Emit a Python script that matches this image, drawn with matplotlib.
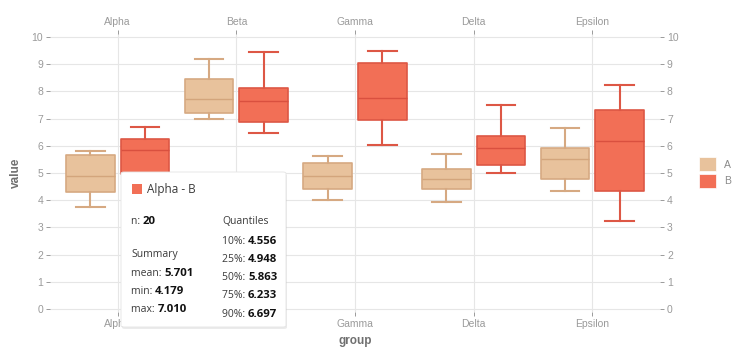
import matplotlib
matplotlib.use("Agg")
import matplotlib.pyplot as plt
from matplotlib.patches import Patch, Rectangle, FancyBboxPatch

# ---------------- data ----------------
groups = ["Alpha", "Beta", "Gamma", "Delta", "Epsilon"]
series = ["A", "B"]

# whisker low (10%), q1 (25%), median, q3 (75%), whisker high (90%)
a_low = [3.76, 7.00, 4.01, 3.93, 4.35]
a_q1 = [4.29, 7.22, 4.42, 4.43, 4.77]
a_med = [4.89, 7.71, 4.89, 4.77, 5.50]
a_q3 = [5.66, 8.44, 5.36, 5.16, 5.91]
a_high = [5.82, 9.18, 5.63, 5.69, 6.67]

b_low = [4.556, 6.47, 6.02, 5.00, 3.25]
b_q1 = [4.948, 6.89, 6.94, 5.31, 4.34]
b_med = [5.863, 7.65, 7.77, 5.93, 6.18]
b_q3 = [6.233, 8.11, 9.06, 6.37, 7.32]
b_high = [6.697, 9.45, 9.47, 7.49, 8.24]

# tooltip content (Alpha - B)
tip_title = "Alpha - B"
tip_n = 20
tip_summary = [("mean", "5.701"), ("min", "4.179"), ("max", "7.010")]
tip_quantiles = [("10%", "4.556"), ("25%", "4.948"), ("50%", "5.863"),
                 ("75%", "6.233"), ("90%", "6.697")]

yticks = list(range(0, 11))

# ---------------- style ----------------
plt.rcParams["font.family"] = ["Liberation Sans", "DejaVu Sans"]
col_fill = {"A": "#E8C29C", "B": "#F26F56"}
col_edge = {"A": "#D6A982", "B": "#DD5745"}
col_med = {"A": "#D3A57C", "B": "#D9503F"}
grid_c = "#E6E6E6"
tick_c = "#9A9A9A"

W, H = 740, 360
fig = plt.figure(figsize=(W / 100, H / 100), dpi=100)
ax = fig.add_axes([50 / W, 1 - 312.3 / H, 610 / W, (312.3 - 33.7) / H])

stats = {"A": (a_low, a_q1, a_med, a_q3, a_high),
         "B": (b_low, b_q1, b_med, b_q3, b_high)}
offsets = {"A": -0.23, "B": 0.23}

for s in series:
    lo, q1, med, q3, hi = stats[s]
    bstats = [dict(whislo=lo[i], q1=q1[i], med=med[i], q3=q3[i], whishi=hi[i],
                   fliers=[], label=groups[i]) for i in range(len(groups))]
    pos = [i + offsets[s] for i in range(len(groups))]
    ax.bxp(bstats, positions=pos, widths=0.41, capwidths=0.24,
           patch_artist=True, showfliers=False, manage_ticks=False,
           boxprops=dict(facecolor=col_fill[s], edgecolor=col_edge[s], linewidth=1.2,
                         joinstyle="round"),
           medianprops=dict(color=col_med[s], linewidth=1.0),
           whiskerprops=dict(color=col_edge[s], linewidth=1.5),
           capprops=dict(color=col_edge[s], linewidth=1.5), zorder=3)

ax.set_xlim(-0.57, 4.57)
ax.set_ylim(-0.12, 10.12)
ax.set_yticks(yticks)
ax.set_xticks(range(len(groups)))
ax.set_xticklabels(groups)
ax.grid(True, color=grid_c, linewidth=0.8, zorder=0)
ax.set_axisbelow(True)
for sp in ax.spines.values():
    sp.set_visible(False)
ax.tick_params(axis="both", colors=tick_c, labelsize=7.5, length=3, width=0.7,
               pad=2, labelcolor=tick_c)
ax.tick_params(axis="x", top=True, labeltop=True, pad=2)
ax.tick_params(axis="y", right=True, labelright=True)
for t in ax.get_xticklines():
    t.set_color(grid_c)
ax.set_xlabel("group", fontsize=8.5, fontweight="bold", color="#707070", labelpad=4)
ax.set_ylabel("value", fontsize=8.5, fontweight="bold", color="#707070", labelpad=7)

# legend
handles = [Patch(facecolor=col_fill[s], edgecolor="white", linewidth=0.5) for s in series]
leg = fig.legend(handles, series, loc="upper left", bbox_to_anchor=(690 / W, 1 - 148 / H),
                 frameon=False, fontsize=7.5, handlelength=1.6, handleheight=1.7,
                 labelspacing=0.25, handletextpad=0.8, labelcolor="#8a8a8a")

# ---------------- tooltip ----------------
def fx(px):
    return px / W

def fy(py):
    return 1 - py / H

tx0, ty0, tx1, ty1 = 121, 172, 286, 327
shadow = FancyBboxPatch((fx(tx0 + 1), fy(ty1 + 2)), fx(tx1 - tx0), (ty1 - ty0) / H,
                        boxstyle="round,pad=0,rounding_size=0.004",
                        transform=fig.transFigure, facecolor="#000000", alpha=0.08,
                        edgecolor="none", zorder=10)
fig.add_artist(shadow)
box = FancyBboxPatch((fx(tx0), fy(ty1)), fx(tx1 - tx0), (ty1 - ty0) / H,
                     boxstyle="round,pad=0,rounding_size=0.004",
                     transform=fig.transFigure, facecolor="white",
                     edgecolor="#E4E4E4", linewidth=0.6, zorder=11)
fig.add_artist(box)
fig.add_artist(Rectangle((fx(131.5), fy(194)), fx(10), 10 / H, transform=fig.transFigure,
                         facecolor=col_fill["B"], edgecolor="none", zorder=12))

tip_font = ["Open Sans", "DejaVu Sans"]
txt_c = "#3a3a3a"
fig.text(fx(147), fy(189.5), tip_title, fontsize=8.5, color=txt_c, va="center",
         family=tip_font, zorder=12)

fig.canvas.draw()
renderer = fig.canvas.get_renderer()

def kv(px, py, key, val):
    t = fig.text(fx(px), fy(py), key + ": ", fontsize=7.5, color=txt_c, va="center",
                 family=tip_font, zorder=12)
    bb = t.get_window_extent(renderer)
    fig.text(bb.x1 / W, fy(py), val, fontsize=8.2, color="#111111", va="center",
             fontweight="bold", family=tip_font, zorder=12)

kv(131, 221.5, "n", str(tip_n))
fig.text(fx(131), fy(255), "Summary", fontsize=7.5, color=txt_c, va="center",
         family=tip_font, zorder=12)
for i, (k, v) in enumerate(tip_summary):
    kv(131, 273 + i * 18.5, k, v)
fig.text(fx(222), fy(221.5), "Quantiles", fontsize=7.5, color=txt_c, va="center",
         family=tip_font, zorder=12)
for i, (k, v) in enumerate(tip_quantiles):
    kv(222, 241 + i * 18.3, k, v)

fig.savefig("out.png", dpi=100, facecolor="white")
